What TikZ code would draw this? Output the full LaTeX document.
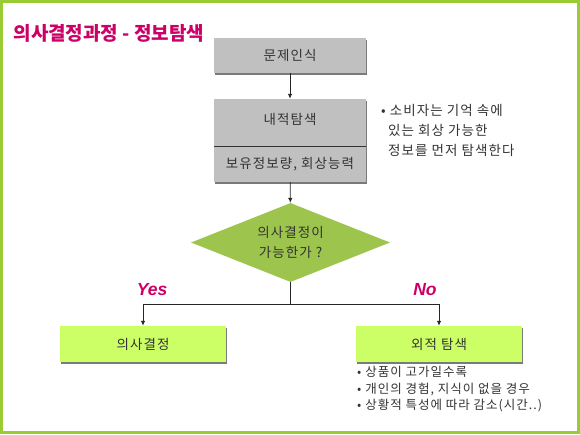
\documentclass[tikz,border=0pt]{standalone}
\usepackage{fontspec}
\setmainfont{Noto Sans CJK KR}
\newfontfamily\krwide[LetterSpace=8]{Noto Sans CJK KR}
\newfontfamily\yesno{Liberation Sans}
\usetikzlibrary{arrows.meta, shadows, shapes.geometric}
\definecolor{frameGreen}{HTML}{99CC33}
\definecolor{titleRed}{HTML}{CC0066}
\definecolor{boxGray}{HTML}{C0C0C0}
\definecolor{boxLime}{HTML}{CCFF66}
\definecolor{diaGreen}{HTML}{9DC44D}
\definecolor{inkGray}{HTML}{333333}
\tikzset{
  stepbox/.style = {rectangle, minimum width = 152pt, inner sep = 0pt, text = inkGray,
    font = \krwide\fontsize{13.5}{15}\selectfont,
    drop shadow = {shadow xshift = 0.8pt, shadow yshift = -1.5pt, fill = black!65, opacity = 0.8}},
  flow/.style = {draw = black!85, line width = 0.9pt, -{Latex[length=5pt, width=4.5pt]}},
  answer/.style = {text = titleRed, font = \yesno\fontsize{17.5}{19}\selectfont\bfseries\itshape}
}

\begin{document}
\begin{tikzpicture}[x = 1pt, y = -1pt]
\useasboundingbox (0,0) rectangle (580,434);
\draw [frameGreen, line width = 3pt] (1.5,1.5) rectangle (578.5,432.5);
\node [anchor = west, text = titleRed, font = \fontsize{19}{21}\selectfont\bfseries] (title) at (10,33) {의사결정과정 - 정보탐색};
% steps
\node [stepbox, fill = boxGray, minimum height = 35pt] (recog) at (290,55.5) {문제인식};
\node [stepbox, fill = boxGray, minimum height = 83pt] (inner) at (290,140.5) {};
\node [text = inkGray, font = \krwide\fontsize{13.5}{15}\selectfont] (innerTop) at (290,119) {내적탐색};
\node [text = inkGray, font = \krwide\fontsize{13.5}{15}\selectfont] (innerSub) at (290,164) {보유정보량, 회상능력};
\draw [black!80, line width = 0.8pt] (214,146) -- (366,146);
\node [anchor = north west, align = left, inner sep = 0pt, text = inkGray, font = \krwide\fontsize{13.5}{20}\selectfont] (innerNote) at (381,104)
  {\textbullet\ 소비자는 기억 속에\\\hspace*{7pt}있는 회상 가능한\\\hspace*{7pt}정보를 먼저 탐색한다};
% decision
\node [diamond, fill = diaGreen, minimum width = 199pt, minimum height = 79pt, inner sep = 0pt, aspect = 2.5] (ask) at (290.5,242.5) {};
\node [align = center, text = inkGray, font = \krwide\fontsize{13.5}{20}\selectfont] (askText) at (290.5,242.5) {의사결정이\\가능한가 ?};
\node [stepbox, fill = boxLime, minimum width = 166pt, minimum height = 36pt] (decide) at (143,344) {의사결정};
\node [stepbox, fill = boxLime, minimum width = 166pt, minimum height = 36pt] (outer) at (439,344) {외적 탐색};
\coordinate (split) at (290.5,304);
\node [answer] (yes) at (152,290) {Yes};
\node [answer] (no) at (425,290) {No};
\node [anchor = north west, align = left, inner sep = 0pt, text = inkGray, font = \krwide\fontsize{12.5}{16.5}\selectfont] (outerNote) at (357,366)
  {\textbullet\ 상품이 고가일수록\\\textbullet\ 개인의 경험, 지식이 없을 경우\\\textbullet\ 상황적 특성에 따라 감소(시간..)};
% connectors
\draw [flow] (recog) -- (inner);
\draw [flow] (inner) -- (ask);
\draw [draw = black!85, line width = 0.9pt] (ask.south) -- (split);
\draw [flow] (split) -| (decide);
\draw [flow] (split) -| (outer);
\end{tikzpicture}
\end{document}
